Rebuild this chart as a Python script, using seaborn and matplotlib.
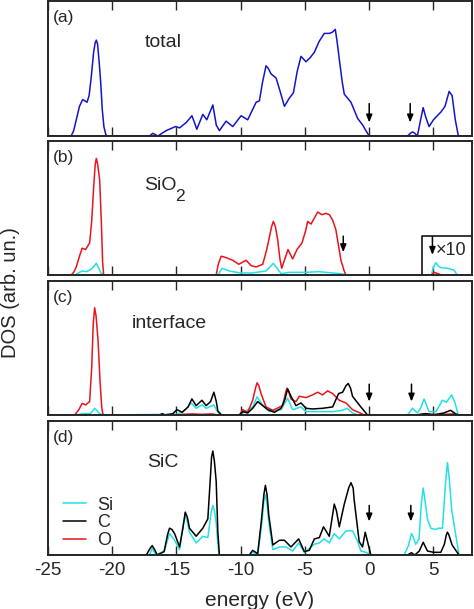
import numpy as np
import pandas as pd
import seaborn as sns
import matplotlib
matplotlib.use('Agg')
import matplotlib.pyplot as plt
from matplotlib.lines import Line2D

# --- Data (energy in eV, DOS in panel-height units) ---
# (a) total
A_TOT_E = [-25, -23.2, -23.0, -22.8, -22.55, -22.3, -21.96, -21.8, -21.63, -21.45, -21.33, -21.24,
           -21.14, -21.02, -20.9, -20.78, -20.65, -20.5, -20.4,
           -17.1, -16.84, -16.45, -15.8, -15.07, -14.76, -14.24, -13.8, -13.6, -13.42, -12.95, -12.64,
           -12.17, -11.9, -11.66, -11.14, -10.62, -9.97, -9.46, -8.8, -8.55, -8.3, -8.03, -7.85,
           -7.64, -7.25, -6.9, -6.6, -6.22, -5.9, -5.6, -5.31, -4.92, -4.6, -4.27, -3.9, -3.5,
           -3.1, -2.85, -2.64, -2.5, -2.33, -2.1, -1.94, -1.42, -0.9, -0.5, -0.26, 0,
           2.98, 3.2, 3.37, 3.55, 3.75, 4.0, 4.2, 4.4, 4.66, 5.0, 5.2, 5.6, 5.9, 6.22, 6.45,
           6.7, 6.94, 8]
A_TOT_V = [0, 0, 0.04, 0.12, 0.22, 0.27, 0.25, 0.30, 0.44, 0.62, 0.69, 0.71,
           0.68, 0.55, 0.40, 0.20, 0.07, 0.01, 0,
           0, 0.02, 0, 0.04, 0.07, 0.06, 0.10, 0.15, 0.10, 0.05, 0.16, 0.12,
           0.23, 0.08, 0.04, 0.11, 0.07, 0.15, 0.12, 0.25, 0.26, 0.40, 0.52, 0.50,
           0.46, 0.43, 0.32, 0.22, 0.28, 0.32, 0.48, 0.59, 0.55, 0.58, 0.62, 0.70, 0.76,
           0.76, 0.77, 0.79, 0.70, 0.57, 0.40, 0.31, 0.25, 0.13, 0.08, 0.04, 0,
           0, 0.02, 0.03, 0.02, 0, 0.12, 0.21, 0.14, 0.07, 0.12, 0.14, 0.18, 0.22, 0.33, 0.30,
           0.12, 0, 0]

# (b) SiO2
B_O_E = [-25, -23.2, -23.0, -22.8, -22.55, -22.34, -22.07, -21.76, -21.6, -21.45, -21.33, -21.24,
         -21.14, -20.98, -20.85, -20.75, -20.67,
         -11.91, -11.75, -11.52, -11.14, -10.62, -10.15, -9.58, -9.19, -8.8, -8.29, -8.0,
         -7.82, -7.6, -7.46, -7.3, -7.12, -6.95, -6.81, -6.53, -6.32, -5.96, -5.62, -5.23,
         -4.95, -4.79, -4.53, -4.01, -3.68, -3.37, -3.1, -2.85, -2.6, -2.46, -2.2, -1.95, -1.81,
         4.85, 5.05, 5.3, 5.6, 8]
B_O_V = [0, 0, 0.02, 0.06, 0.14, 0.20, 0.19, 0.24, 0.40, 0.65, 0.82, 0.87,
         0.83, 0.71, 0.40, 0.10, 0,
         0, 0.08, 0.14, 0.13, 0.11, 0.08, 0.11, 0.07, 0.06, 0.08, 0.18,
         0.26, 0.36, 0.40, 0.36, 0.26, 0.12, 0.05, 0.13, 0.19, 0.12, 0.19, 0.24,
         0.33, 0.40, 0.38, 0.47, 0.45, 0.46, 0.45, 0.41, 0.34, 0.26, 0.11, 0.03, 0,
         0, 0.02, 0.012, 0, 0]
B_SI_E = [-25, -22.92, -22.34, -22.0, -21.6, -21.24, -20.85, -20.6, -11.78, -11.45, -10.9,
          -10.1, -9.1, -8.03, -7.46, -6.86, -6.2, -4.9, -3.9, -2.85, -2.07, -1.8,
          4.85, 5.0, 5.18, 5.4, 5.6, 6.1, 6.6, 6.85, 8]
B_SI_V = [0, 0, 0.03, 0.025, 0.045, 0.087, 0.01, 0, 0, 0.05, 0.03,
          0.016, 0.015, 0.03, 0.087, 0.01, 0.02, 0.02, 0.025, 0.015, 0.008, 0,
          0, 0.06, 0.092, 0.065, 0.055, 0.05, 0.036, 0, 0]

# (c) interface
C_O_E = [-25, -22.92, -22.6, -22.34, -22.07, -21.76, -21.6, -21.48, -21.37, -21.26, -21.1,
         -20.95, -20.82, -20.72,
         -15.0, -14.5, -13.8, -13.0, -12.2, -11.8, -10.1, -9.84, -9.46, -9.07, -8.85, -8.73,
         -8.6, -8.42, -8.03, -7.5, -6.73, -6.5, -6.4, -6.25, -6.09, -5.7, -5.44, -4.92, -4.41,
         -4.01, -3.63, -3.24, -2.85, -2.33, -1.81, -1.3, -0.83, -0.39, 3.7, 4.3, 5.0, 6.0, 6.5,
         7.0, 8]
C_O_V = [0, 0, 0.04, 0.087, 0.075, 0.10, 0.35, 0.68, 0.80, 0.74, 0.55,
         0.25, 0.06, 0,
         0, 0.005, 0.008, 0.005, 0.008, 0, 0, 0.04, 0.02, 0.11, 0.20, 0.24,
         0.22, 0.16, 0.06, 0.035, 0.07, 0.17, 0.20, 0.17, 0.12, 0.10, 0.14, 0.13, 0.15,
         0.17, 0.15, 0.18, 0.16, 0.11, 0.09, 0.04, 0.02, 0, 0, 0.01, 0.005, 0.006, 0.008,
         0, 0]
C_C_E = [-25, -16.32, -16.1, -15.9, -15.28, -14.97, -14.55, -14.1, -13.8, -13.47, -13.02,
         -12.69, -12.35, -12.09, -11.9, -11.78, -11.5, -10.1, -9.84, -9.46, -9.07, -8.68, -8.29,
         -7.9, -7.38, -6.86, -6.55, -6.35, -6.09, -5.7, -5.31, -4.92, -4.41, -3.63, -2.85,
         -2.38, -2.07, -1.8, -1.63, -1.45, -1.3, -0.98, -0.65, -0.39, -0.13, 3.7, 4.4, 5.0,
         5.8, 6.34, 6.7, 6.94, 8]
C_C_V = [0, 0, 0.01, 0, 0.01, 0.04, 0.02, 0.06, 0.12, 0.07, 0.11,
         0.07, 0.10, 0.17, 0.10, 0.03, 0, 0, 0.025, 0.015, 0.05, 0.10, 0.07,
         0.04, 0.02, 0.05, 0.12, 0.195, 0.14, 0.07, 0.09, 0.05, 0.045, 0.05, 0.06,
         0.16, 0.17, 0.22, 0.235, 0.20, 0.14, 0.10, 0.06, 0.03, 0, 0, 0.01, 0,
         0.015, 0.035, 0.01, 0, 0]
C_SI_E = [-25, -22.92, -22.3, -21.7, -21.37, -20.98, -20.72, -15.0, -14.6, -14.2, -13.86,
          -13.47, -13.02, -12.69, -12.09, -11.78, -11.5, -10.1, -9.84, -9.07, -8.73, -8.29,
          -7.77, -6.86, -6.35, -5.96, -5.31, -4.92, -3.9, -2.85, -2.1, -1.7, -1.3, -0.9,
          2.98, 3.37, 3.75, 4.0, 4.27, 4.66, 5.2, 5.7, 6.0, 6.42, 6.68, 6.94, 8]
C_SI_V = [0, 0, 0.01, 0.01, 0.05, 0.01, 0, 0.005, 0.02, 0.05, 0.09,
          0.05, 0.075, 0.05, 0.075, 0.02, 0, 0, 0.015, 0.06, 0.135, 0.075,
          0.025, 0.04, 0.125, 0.04, 0.06, 0.025, 0.025, 0.025, 0.035, 0.05, 0.015, 0,
          0, 0.05, 0.015, 0.05, 0.12, 0.025, 0.025, 0.11, 0.095, 0.15, 0.09, 0, 0]

# (d) SiC
D_C_E = [-25, -17.35, -17.05, -16.89, -16.7, -16.5, -15.96, -15.7, -15.54, -15.35, -15.15,
         -14.76, -14.5, -14.32, -14.15, -13.99, -13.47, -12.95, -12.56, -12.38, -12.27, -12.17,
         -12.05, -11.91, -11.78, -11.66, -9.33, -9.07, -8.68, -8.4, -8.2, -8.08, -7.95, -7.82,
         -7.5, -6.99, -6.6, -6.09, -5.49, -5.05, -4.66, -4.27, -3.88, -3.56, -3.11, -2.85,
         -2.72, -2.55, -2.33, -1.94, -1.6, -1.42, -1.25, -1.17, -0.78, -0.52, -0.31, -0.13,
         0.13, 2.98, 3.29, 3.55, 3.9, 4.2, 4.53, 5.0, 5.57, 5.85, 6.0, 6.09, 6.2, 6.45, 6.99, 8]
D_C_V = [0, 0, 0.05, 0.07, 0.04, 0, 0.025, 0.15, 0.20, 0.19, 0.16,
         0.06, 0.2, 0.32, 0.28, 0.2, 0.14, 0.2, 0.27, 0.55, 0.73, 0.776,
         0.70, 0.55, 0.17, 0, 0, 0.035, 0.01, 0.25, 0.45, 0.52, 0.45, 0.3,
         0.075, 0.11, 0.11, 0.06, 0.12, 0.025, 0.035, 0.12, 0.13, 0.21, 0.14, 0.30,
         0.38, 0.33, 0.21, 0.38, 0.50, 0.54, 0.50, 0.41, 0.10, 0.06, 0.17, 0.10,
         0, 0, 0.017, 0, 0.03, 0.095, 0.03, 0.02, 0.02, 0.08, 0.15, 0.17, 0.15, 0.075, 0, 0]
D_SI_E = [-25, -17.1, -16.89, -16.6, -15.96, -15.54, -15.15, -14.76, -14.5, -14.32, -14.15,
          -13.99, -13.47, -12.95, -12.56, -12.3, -12.17, -12.05, -11.91, -11.75, -11.66, -9.33,
          -9.07, -8.68, -8.4, -8.2, -8.08, -7.95, -7.82, -7.5, -6.99, -6.47, -5.96, -5.49,
          -5.05, -4.27, -3.88, -3.5, -3.11, -2.72, -2.33, -1.81, -1.29, -0.9, -0.65, -0.26,
          0.13, 2.72, 3.05, 3.29, 3.45, 3.62, 3.88, 4.05, 4.2, 4.35, 4.53, 4.79, 5.18, 5.38,
          5.7, 5.95, 6.09, 6.22, 6.43, 6.99, 8]
D_SI_V = [0, 0, 0.05, 0, 0.03, 0.16, 0.11, 0.04, 0.22, 0.29, 0.25,
          0.17, 0.09, 0.14, 0.13, 0.32, 0.37, 0.33, 0.24, 0.05, 0, 0,
          0.02, 0.005, 0.2, 0.40, 0.45, 0.38, 0.25, 0.04, 0.06, 0.06, 0.03, 0.09,
          0.02, 0.08, 0.09, 0.12, 0.09, 0.16, 0.12, 0.18, 0.18, 0.10, 0.03, 0.02,
          0, 0, 0.07, 0.16, 0.13, 0.08, 0.12, 0.38, 0.50, 0.40, 0.27, 0.20, 0.19, 0.20,
          0.20, 0.55, 0.69, 0.58, 0.33, 0, 0]

# arrows: (energy, tail height, tip height)
ARROWS = {
    'a': [(0.0, 0.24, 0.10), (3.19, 0.24, 0.10)],
    'b': [(-2.02, 0.29, 0.17), (4.92, 0.286, 0.15)],
    'c': [(0.0, 0.23, 0.10), (3.29, 0.23, 0.10)],
    'd': [(0.0, 0.37, 0.25), (3.24, 0.37, 0.25)],
}
PANEL_TITLES = {'a': 'total', 'b': 'SiO', 'c': 'interface', 'd': 'SiC'}
TITLE_POS = {'a': (-17.5, 0.69), 'b': (-17.5, 0.67), 'c': (-18.5, 0.68), 'd': (-17.25, 0.69)}
SUB_POS = (-15.1, 0.585)   # the "2" of SiO2
XTICKS = [-25, -20, -15, -10, -5, 0, 5]
INSET_LEFT = 4.09   # x10 box in panel (b)
INSET_TOP = 0.293

COL_TOT = '#1414cc'
COL_SI = '#22e0e6'
COL_C = 'black'
COL_O = '#e8141c'

sns.set_style('ticks')
plt.rcParams['font.family'] = ['Liberation Sans', 'DejaVu Sans']
plt.rcParams['axes.unicode_minus'] = False

fig = plt.figure(figsize=(4.74, 6.09), dpi=100)
L, W = 48 / 474, 424 / 474
rects = {
    'a': (L, 1 - 136 / 609, W, 135 / 609),
    'b': (L, 1 - 275 / 609, W, 134 / 609),
    'c': (L, 1 - 415 / 609, W, 134 / 609),
    'd': (L, 1 - 555 / 609, W, 134 / 609),
}
curves = {
    'a': [(A_TOT_E, A_TOT_V, COL_TOT)],
    'b': [(B_SI_E, B_SI_V, COL_SI), (B_O_E, B_O_V, COL_O)],
    'c': [(C_SI_E, C_SI_V, COL_SI), (C_O_E, C_O_V, COL_O), (C_C_E, C_C_V, COL_C)],
    'd': [(D_SI_E, D_SI_V, COL_SI), (D_C_E, D_C_V, COL_C)],
}

for key in ['a', 'b', 'c', 'd']:
    ax = fig.add_axes(rects[key])
    for e, v, col in curves[key]:
        df = pd.DataFrame({'E': e, 'DOS': v})
        sns.lineplot(data=df, x='E', y='DOS', ax=ax, color=col, linewidth=1.1,
                     estimator=None, sort=False)
    for ln in ax.lines:
        ln.set_solid_joinstyle('round')
    ax.set_xlim(-25, 8)
    ax.set_ylim(0, 1)
    ax.set_xticks(XTICKS)
    ax.set_yticks([])
    ax.set_xlabel('')
    ax.set_ylabel('')
    ax.tick_params(axis='x', direction='in', top=True, length=6.5, width=1,
                   labelsize=13.5, pad=5, labelbottom=(key == 'd'))
    for sp in ax.spines.values():
        sp.set_linewidth(1.4)
        sp.set_visible(True)
    ax.text(0.012, 0.88, f'({key})', transform=ax.transAxes, fontsize=12.5,
            ha='left', va='center')
    tx, ty = TITLE_POS[key]
    ax.text(tx, ty, PANEL_TITLES[key], fontsize=14, ha='left', va='center')
    for e, y0, y1 in ARROWS[key]:
        ax.annotate('', xy=(e, y1), xytext=(e, y0),
                    arrowprops=dict(arrowstyle='-|>,head_length=0.45,head_width=0.18',
                                    color='black', lw=1.1, shrinkA=0, shrinkB=0))
    if key == 'b':
        ax.text(SUB_POS[0], SUB_POS[1], '2', fontsize=12.5, ha='left', va='center')
        ax.plot([INSET_LEFT, INSET_LEFT, 8], [0, INSET_TOP, INSET_TOP], color='black',
                lw=1.1, clip_on=False)
        ax.text(5.15, 0.185, '\u00d710', fontsize=13, ha='left', va='center')
    if key == 'd':
        handles = [Line2D([], [], color=COL_SI, lw=1.1),
                   Line2D([], [], color=COL_C, lw=1.1),
                   Line2D([], [], color=COL_O, lw=1.1)]
        ax.legend(handles, ['Si', 'C', 'O'], frameon=False, loc='upper left',
                  bbox_to_anchor=(0.018, 0.49), borderaxespad=0, fontsize=13,
                  handlelength=1.3, handletextpad=0.6, labelspacing=0.05)

fig.text(260 / 474, 1 - 600 / 609, 'energy (eV)', fontsize=15, ha='center', va='center')
fig.text(11 / 474, 1 - 293 / 609, 'DOS (arb. un.)', fontsize=14.5, ha='center',
         va='center', rotation=90)

fig.savefig('out.png', dpi=100)
